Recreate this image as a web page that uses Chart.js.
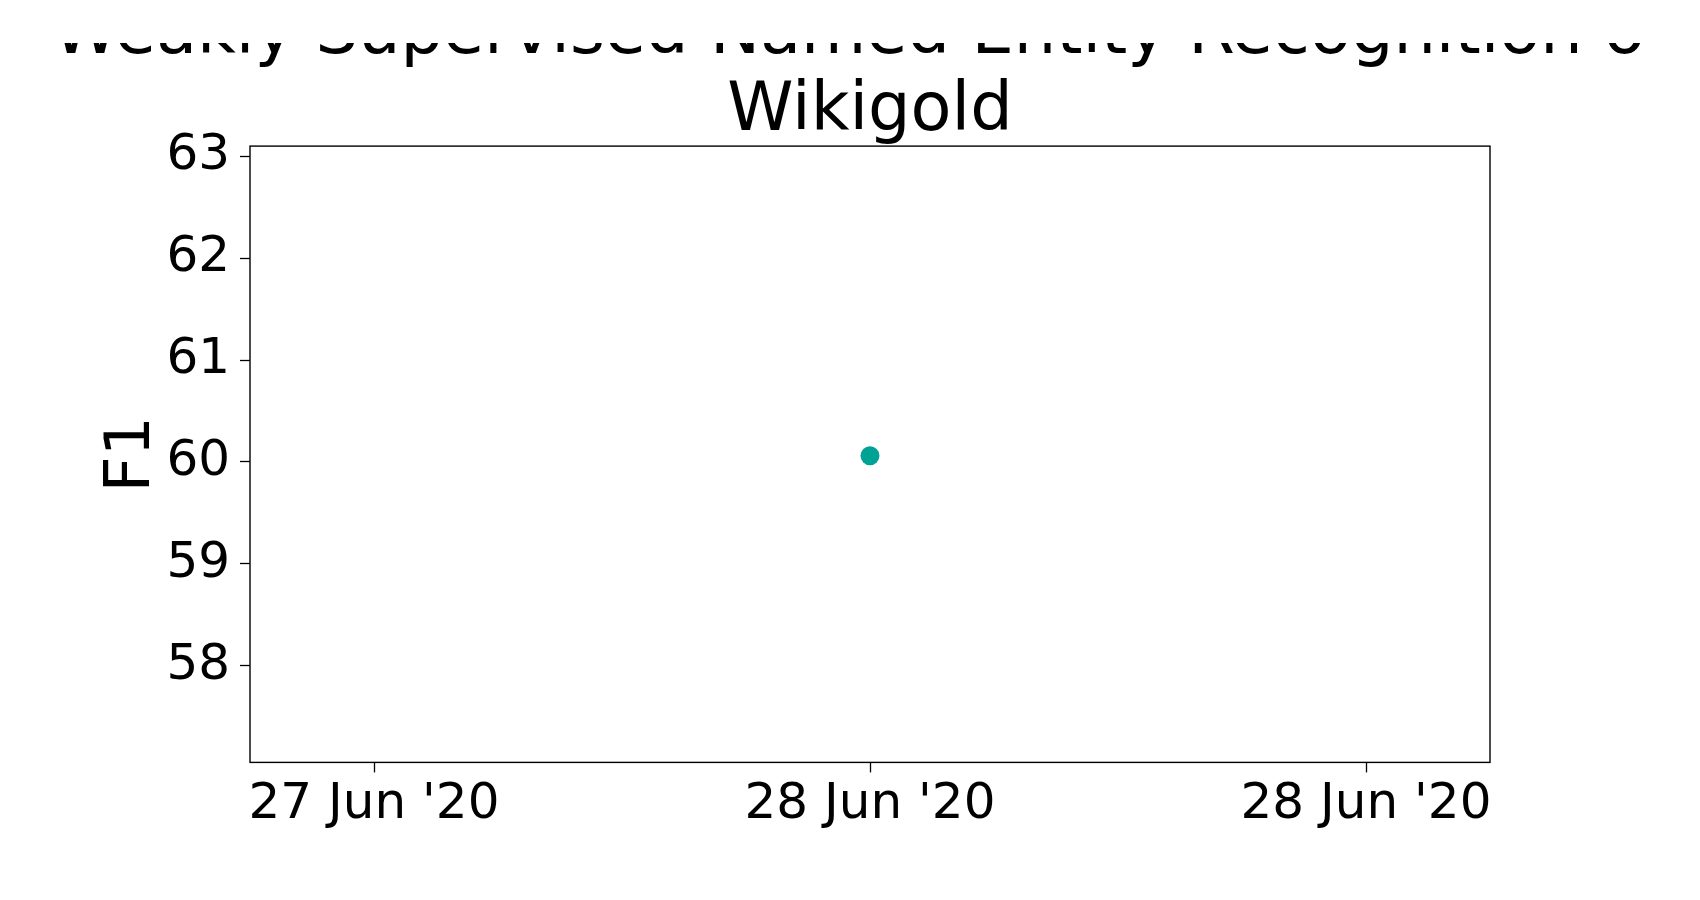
<!DOCTYPE html>
<html>
<head>
<meta charset="utf-8">
<script src="https://cdn.jsdelivr.net/npm/chart.js@4/dist/chart.umd.min.js"></script>
<style>
    body { margin: 0; width: 1700px; height: 900px; overflow: hidden; background: #fff; }
    /* the source picture is cut off above the first title line and at the right */
    #frame { position: absolute; left: 0; top: 0; width: 1700px; height: 900px; overflow: hidden;
             clip-path: inset(43px 60px 0 0); }
    #myChart { position: absolute; left: 20px; top: -10px; }
</style>
</head>
<body>
<div id="frame"><canvas id="myChart" width="1700" height="910"></canvas></div>
<script>
const runDates = ['2020-06-28T00:00:00Z'];
const f1Scores = [60.06];
const xTickDates = ['2020-06-27T12:00:00Z', '2020-06-28T00:00:00Z', '2020-06-28T12:00:00Z'];
const xTickLabels = ["27 Jun '20", "28 Jun '20", "28 Jun '20"];
const yTickValues = [58, 59, 60, 61, 62, 63];
const titleLines = ['Weakly Supervised Named Entity Recognition on', 'Wikigold'];

const toHours = d => Date.parse(d) / 3600000;
const centre = toHours(runDates[0]);

Chart.defaults.font.family = 'DejaVu Sans';
Chart.defaults.color = '#000';

// matplotlib style box round the plot
const boxPlugin = {
    id: 'box',
    afterDatasetsDraw(chart) {
        const {ctx, chartArea: a} = chart;
        ctx.save();
        ctx.strokeStyle = '#000';
        ctx.lineWidth = 1.4;
        ctx.strokeRect(a.left, a.top, a.right - a.left, a.bottom - a.top);
        ctx.restore();
    }
};

const ctx = document.getElementById('myChart').getContext('2d');
new Chart(ctx, {
    type: 'scatter',
    data: {
        datasets: [{
            label: 'F1',
            data: runDates.map((d, i) => ({x: toHours(d), y: f1Scores[i]})),
            backgroundColor: '#00a295',
            borderWidth: 0,
            pointRadius: 9.5,
            pointHoverRadius: 9.5
        }]
    },
    options: {
        responsive: false,
        animation: false,
        devicePixelRatio: 1,
        layout: { padding: { bottom: 63 } },
        plugins: {
            legend: { display: false },
            tooltip: { enabled: false },
            title: {
                display: true,
                text: titleLines,
                color: '#000',
                font: { size: 67, weight: 'normal', lineHeight: 1.15 },
                padding: { top: 6.6, bottom: -4.6 }
            }
        },
        scales: {
            x: {
                type: 'linear',
                min: centre - 15,
                max: centre + 15,
                afterBuildTicks: scale => {
                    scale.ticks = xTickDates.map(d => ({value: toHours(d)}));
                },
                ticks: {
                    callback: (value, index) => xTickLabels[index],
                    font: { size: 50, lineHeight: 1.0 },
                    padding: 7.3,
                    maxRotation: 0,
                    autoSkip: false
                },
                grid: { drawOnChartArea: false, tickLength: 10, tickColor: '#000', tickWidth: 1.3 },
                border: { display: false }
            },
            y: {
                min: 57.05,
                max: 63.1,
                afterBuildTicks: scale => {
                    scale.ticks = yTickValues.map(v => ({value: v}));
                },
                afterFit: scale => { scale.width = 230; },
                ticks: {
                    font: { size: 50, lineHeight: 1.0 },
                    padding: 10
                },
                title: {
                    display: true,
                    text: 'F1',
                    font: { size: 63, lineHeight: 1.2 },
                    padding: { top: 74.7, bottom: 0 }
                },
                grid: { drawOnChartArea: false, tickLength: 10, tickColor: '#000', tickWidth: 1.3 },
                border: { display: false }
            },
            yRight: {
                type: 'linear',
                position: 'right',
                afterFit: scale => { scale.width = 230; },
                ticks: { display: false },
                grid: { display: false, drawTicks: false },
                border: { display: false }
            }
        }
    },
    plugins: [boxPlugin]
});
</script>
</body>
</html>
